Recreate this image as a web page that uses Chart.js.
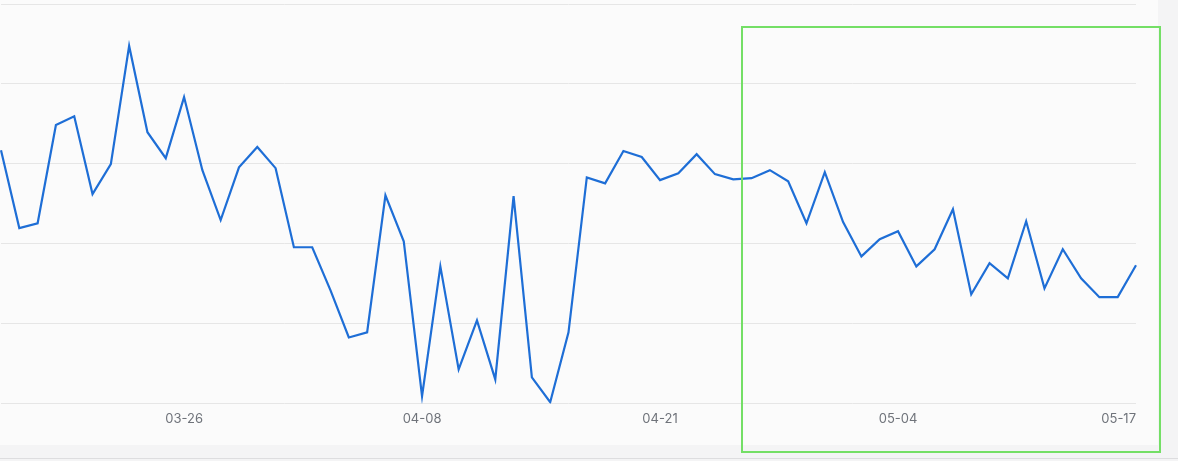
<!DOCTYPE html>
<html>
<head>
<meta charset="utf-8">
<script src="https://cdn.jsdelivr.net/npm/chart.js@4"></script>
<style>
  html, body { margin: 0; padding: 0; background: #f4f4f5; }
  #wrap { position: relative; width: 1178px; height: 461px; overflow: hidden; }
  #panel { position: absolute; left: 0; top: 0; width: 1158px; height: 445px; background: #fbfbfb; }
  #rule { position: absolute; left: 0; top: 458px; width: 1178px; height: 1px; background: #dddddf; }
  #box { position: absolute; left: 0; top: 0; width: 1178px; height: 461px; }
</style>
</head>
<body>
<div id="wrap">
  <div id="panel"></div>
  <div id="rule"></div>
  <div id="box"><canvas id="trend"></canvas></div>
</div>
<script>
// daily labels, 03-16 .. 05-17
const days = [
  '03-16','03-17','03-18','03-19','03-20','03-21','03-22','03-23','03-24','03-25',
  '03-26','03-27','03-28','03-29','03-30','03-31','04-01','04-02','04-03','04-04',
  '04-05','04-06','04-07','04-08','04-09','04-10','04-11','04-12','04-13','04-14',
  '04-15','04-16','04-17','04-18','04-19','04-20','04-21','04-22','04-23','04-24',
  '04-25','04-26','04-27','04-28','04-29','04-30','05-01','05-02','05-03','05-04',
  '05-05','05-06','05-07','05-08','05-09','05-10','05-11','05-12','05-13','05-14',
  '05-15','05-16','05-17'
];

// only these dates get a tick label
const shownTicks = ['03-26', '04-08', '04-21', '05-04', '05-17'];

const values = [
  63.4, 43.9, 45.1, 69.7, 71.9, 52.4, 59.9, 89.5, 67.9, 61.4,
  76.7, 58.4, 45.9, 59.1, 64.2, 58.9, 39.1, 39.1, 28.3, 16.5,
  17.8, 52.1, 40.6, 1.8, 34.3, 8.5, 20.8, 6.0, 51.9, 6.5,
  0.3, 17.8, 56.6, 55.1, 63.2, 61.7, 55.9, 57.6, 62.4, 57.4,
  56.1, 56.4, 58.4, 55.6, 45.1, 57.9, 45.4, 36.8, 41.1, 43.1,
  34.3, 38.6, 48.6, 27.3, 35.1, 31.3, 45.6, 28.8, 38.6, 31.3,
  26.6, 26.6, 34.6
];

// highlighted range (in day index units) for the green frame
const highlightFrom = 40.5;
const highlightTo = 63.3;

const highlightBox = {
  id: 'highlightBox',
  afterDraw(chart) {
    const x = chart.scales.x, y = chart.scales.y, ctx = chart.ctx;
    const left = Math.round(x.getPixelForValue(highlightFrom));
    const right = Math.round(x.getPixelForValue(highlightTo));
    const top = Math.round(y.getPixelForValue(94.2));
    const bottom = chart.height - 9;
    ctx.save();
    ctx.strokeStyle = '#74df66';
    ctx.lineWidth = 2;
    ctx.strokeRect(left, top, right - left, bottom - top);
    ctx.restore();
  }
};

new Chart(document.getElementById('trend'), {
  type: 'line',
  data: {
    labels: days,
    datasets: [{
      data: values,
      borderColor: '#1e6ed6',
      borderWidth: 2.2,
      pointRadius: 0,
      tension: 0,
      fill: false
    }]
  },
  options: {
    responsive: true,
    maintainAspectRatio: false,
    animation: false,
    layout: { padding: { left: 1, right: 42, top: 4, bottom: 34 } },
    plugins: { legend: { display: false }, tooltip: { enabled: false } },
    scales: {
      x: {
        grid: { display: false, drawTicks: true, tickLength: 8 },
        border: { display: false },
        ticks: {
          autoSkip: false,
          maxRotation: 0,
          padding: 0,
          align: 'inner',
          color: '#6f737a',
          font: { family: 'Inter', size: 13 },
          callback: function (v) {
            const l = this.getLabelForValue(v);
            return shownTicks.includes(l) ? l : '';
          }
        }
      },
      y: {
        min: 0,
        max: 100,
        border: { display: false },
        grid: { color: '#e6e6e6', drawTicks: false },
        ticks: { display: false, stepSize: 20 }
      }
    }
  },
  plugins: [highlightBox]
});
</script>
</body>
</html>
